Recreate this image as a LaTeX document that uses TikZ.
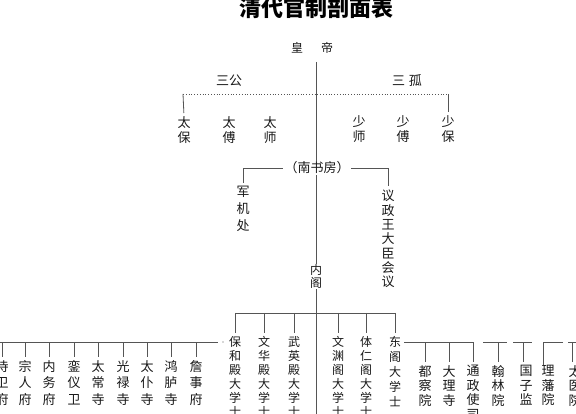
\documentclass[tikz,border=0pt]{standalone}
\usepackage{fontspec}
\setmainfont{Noto Sans CJK SC}
\definecolor{lc}{RGB}{85,85,85}
\definecolor{tc}{RGB}{25,25,25}
\begin{document}
\begin{tikzpicture}[x=1pt,y=-1pt,
  ln/.style={draw=lc, line width=0.8pt},
  vt/.style={font=\fontsize{13}{#1}\selectfont, align=center, inner sep=0pt, anchor=north, text=tc},
  vt/.default=15,
  vs/.style={font=\fontsize{12}{#1}\selectfont, align=center, inner sep=0pt, anchor=north, text=tc},
  vs/.default=14,
  lab/.style={font=\fontsize{13}{13}\selectfont, inner sep=0pt, text=tc},
  tick/.style={ln, shorten >=3pt}]
\fill[white] (0,0) rectangle (576,414);
\useasboundingbox (0,0) rectangle (576,414);

% title and emperor
\node[font=\bfseries\fontsize{22}{22}\selectfont, inner sep=0pt, text=black] (title) at (316,8) {清代官制剖面表};
\node[font=\fontsize{12}{12}\selectfont, inner sep=0pt, text=tc] (hd) at (312,48) {皇\hspace{18pt}帝};

% main vertical
\coordinate (top) at (316,62);
\coordinate (bot) at (316,414);
\draw[ln] (top) -- (bot);

% three dukes / three solitaries
\node[lab] (sg) at (229,81) {三公};
\node[lab] (sgu) at (407,81) {三\hspace{4pt}孤};
\coordinate (gl) at (183,94);
\coordinate (gr) at (448,94);
\draw[ln, dotted] (gl) -- (gr);

\node[vt] (tb) at (184,116) {太\\保};
\node[vt] (tf) at (229,116) {太\\傅};
\node[vt] (ts) at (270,116) {太\\师};
\node[vt] (ss) at (359,115) {少\\师};
\node[vt] (sf) at (403,115) {少\\傅};
\node[vt] (sb) at (448,115) {少\\保};
\draw[tick] (gl) -- (tb.north);
\draw[tick] (gr) -- (sb.north);

% south study
\node[vt=17] (jj) at (243,186) {军\\机\\处};
\node[vt=14.3] (yz) at (388,190) {议\\政\\王\\大\\臣\\会\\议};
\node[font=\fontsize{13}{13}\selectfont, inner sep=1pt, fill=white, text=tc] (nsf) at (317,168) {（南书房）};
\draw[ln] ([yshift=3pt]jj.north) |- (nsf.west);
\draw[ln] ([yshift=4pt]yz.north) |- (nsf.east);

% grand secretariat
\node[vs=13.5, fill=white] (ng) at (316,264) {内\\阁};

% grand secretaries
\coordinate (bl) at (235,313);
\coordinate (br) at (395,313);
\draw[ln] (bl) -- (br);
\node[vs] (bh) at (235,336) {保\\和\\殿\\大\\学\\士};
\node[vs] (wh) at (264,336) {文\\华\\殿\\大\\学\\士};
\node[vs] (wy) at (294,336) {武\\英\\殿\\大\\学\\士};
\node[vs] (wyg) at (338,336) {文\\渊\\阁\\大\\学\\士};
\node[vs] (tr) at (366,336) {体\\仁\\阁\\大\\学\\士};
\node[vs=15] (dg) at (395,336) {东\\阁\\大\\学\\士};
\foreach \n in {bh,wh,wy,wyg,tr,dg}
  \draw[tick] (\n.north |- bl) -- (\n.north);

% left row
\coordinate (ll) at (0,342);
\coordinate (lr) at (218,342);
\draw[ln] (ll) -- (lr);
\fill[lc] (223,342) circle (0.6pt);
\node[vt=16.5] (wwf) at (2,360) {侍\\卫\\府};
\node[vt=16.5] (zrf) at (25,360) {宗\\人\\府};
\node[vt=16.5] (nwf) at (49,360) {内\\务\\府};
\node[vt=16.5] (lyw) at (74,360) {銮\\仪\\卫};
\node[vt=16.5] (tcs) at (98,360) {太\\常\\寺};
\node[vt=16.5] (gls) at (123,360) {光\\禄\\寺};
\node[vt=16.5] (tps) at (147,360) {太\\仆\\寺};
\node[vt=16.5] (hls) at (171,360) {鸿\\胪\\寺};
\node[vt=16.5] (zsf) at (196,360) {詹\\事\\府};
\foreach \n in {wwf,zrf,nwf,lyw,tcs,gls,tps,hls,zsf}
  \draw[tick] (\n.north |- ll) -- (\n.north);

% right row
\coordinate (ra) at (404,342);
\coordinate (rb) at (474,342);
\draw[ln] (ra) -- (rb);
\node[vt=14.5] (dcy) at (425,365) {都\\察\\院};
\node[vt=14.5] (dls) at (449,365) {大\\理\\寺};
\node[vt=14.5] (tzs) at (473,365) {通\\政\\使\\司};
\foreach \n in {dcy,dls,tzs}
  \draw[tick] (\n.north |- ra) -- (\n.north);

\node[vt=14.5] (hly) at (498,365) {翰\\林\\院};
\coordinate (h1) at (483,342);
\coordinate (h2) at (507,342);
\draw[ln] (h1) -- (h2);
\draw[tick] (hly.north |- h1) -- (hly.north);

\node[vt=14.5] (gzj) at (526,365) {国\\子\\监};
\coordinate (g1) at (513,342);
\coordinate (g2) at (532,342);
\draw[ln] (g1) -- (g2);
\draw[tick] (523,342) -- (gzj.north -| 523,0);

\node[vt=14.5] (lfy) at (548,365) {理\\藩\\院};
\coordinate (l1) at (543,342);
\coordinate (l2) at (563,342);
\draw[ln] (l2) -- (l1) -- (l1 |- lfy.north);

\node[vt=14.5] (tyy) at (575,365) {太\\医\\院};
\coordinate (t1) at (568,342);
\coordinate (t2) at (576,342);
\draw[ln] (t1) -- (t2);
\draw[tick] (572,342) -- (tyy.north -| 572,0);
\end{tikzpicture}
\end{document}
